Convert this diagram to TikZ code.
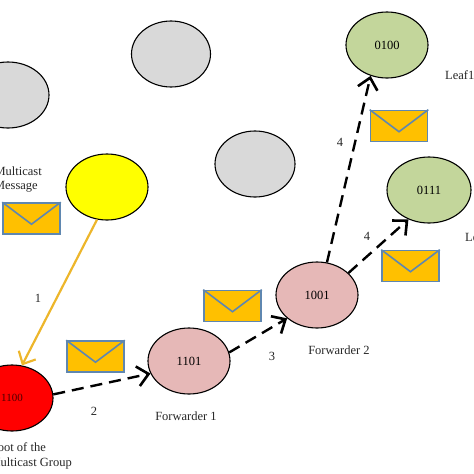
\documentclass[tikz,border=0pt]{standalone}
\usepackage{fontspec}
\setmainfont{Liberation Serif}
\usetikzlibrary{arrows.meta,shapes.geometric}
\definecolor{mailfill}{HTML}{FFC000}
\definecolor{mailedge}{HTML}{5F87B0}
\definecolor{forwardpink}{HTML}{E6B8B7}
\definecolor{leafgreen}{HTML}{C3D69B}
\definecolor{idlegray}{HTML}{D9D9D9}
\definecolor{joinline}{HTML}{EDB62B}
\definecolor{sourceyellow}{RGB}{255,255,0}
\definecolor{rootred}{RGB}{255,0,0}
\tikzset{
  router/.style={ellipse, draw=black, line width=1.1pt, inner sep=0pt, minimum width=82pt, minimum height=66pt, font=\fontsize{12.5}{14}\selectfont},
  mail/.style={rectangle, draw=mailedge, fill=mailfill, line width=1.6pt, inner sep=0pt, minimum width=57pt, minimum height=31pt},
  hop/.style={draw=black, line width=2.4pt, dash pattern=on 12pt off 7pt, -{Straight Barb[length=11pt,width=20pt,line width=2.6pt]}},
  caption/.style={font=\fontsize{12.5}{14}\selectfont, text=black!85, inner sep=0pt}
}
\begin{document}
\begin{tikzpicture}[x=1pt, y=-1pt]
  \useasboundingbox (0, 0) rectangle (474, 474);
  \clip (0, 0) rectangle (474, 474);
  % Unbeteiligte Knoten
  \node[router, fill=idlegray] (idleone) at (8, 95) {};
  \node[router, fill=idlegray, minimum width=79pt] (idletwo) at (171, 54) {};
  \node[router, fill=idlegray, minimum width=80pt] (idlethree) at (255, 164) {};
  % Quelle und Wurzel
  \node[router, fill=sourceyellow] (source) at (107, 187) {};
  \node[router, fill=rootred, font=\fontsize{11}{12}\selectfont, text=black!70!red] (root) at (12, 398) {1100};
  % Forwarder
  \node[router, fill=forwardpink] (fwdone) at (189, 361) {1101};
  \node[router, fill=forwardpink] (fwdtwo) at (317, 295) {1001};
  % Blaetter
  \node[router, fill=leafgreen] (leafone) at (387, 45) {0100};
  \node[router, fill=leafgreen, minimum width=84pt] (leaftwo) at (429, 190) {0111};
  % Pfade
  \draw[joinline, line width=2.2pt, -{Straight Barb[length=10pt,width=19pt,line width=2.2pt]}] (source.253) -- (root.73);
  \draw[hop] (root.5) -- (fwdone.198);
  \draw[hop] (fwdone.12) -- (fwdtwo.218);
  \draw[hop] (fwdtwo.73) -- (leafone.242);
  \draw[hop] (fwdtwo.35) -- (leaftwo.235);
  % Nachrichten
  \foreach \n/\x/\y in {mailone/31.5/218.5, mailtwo/95.5/356.5, mailthree/232.5/306, mailfour/399/126, mailfive/410.5/266}{
    \node[mail] (\n) at (\x, \y) {};
    \draw[mailedge, line width=1.6pt] (\n.north west) -- ([yshift=-22pt]\n.north) -- (\n.north east);
  }
  % Nummern
  \node[caption] (stepone) at (38, 298) {1};
  \node[caption] (steptwo) at (94, 411) {2};
  \node[caption] (stepthree) at (272, 356) {3};
  \node[caption] (stepfour) at (340, 142) {4};
  \node[caption] (stepfive) at (367, 236) {4};
  % Beschriftungen
  \node[caption, anchor=east] (msgone) at (42, 171) {Multicast};
  \node[caption, anchor=east] (msgtwo) at (38, 187) {Message};
  \node[caption, anchor=east] (rootone) at (46, 447) {Root of the};
  \node[caption, anchor=east] (roottwo) at (72, 463) {Multicast Group};
  \node[caption] (fwdonelabel) at (186, 416) {Forwarder 1};
  \node[caption] (fwdtwolabel) at (339, 350) {Forwarder 2};
  \node[caption, anchor=west] (leafonelabel) at (445, 75) {Leaf1};
  \node[caption, anchor=west] (leaftwolabel) at (465, 237) {Leaf2};
\end{tikzpicture}
\end{document}
